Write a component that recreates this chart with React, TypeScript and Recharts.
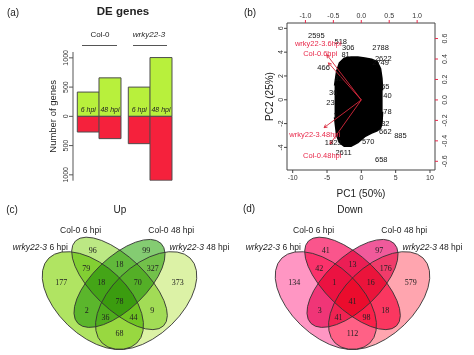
import React from 'react';
import {
  BarChart,
  Bar,
  XAxis,
  YAxis,
  LabelList,
  ComposedChart,
  Area,
  Scatter,
  ScatterChart,
  ReferenceLine,
} from 'recharts';

// (a) DE genes per genotype / time point (down values shown below zero)
const hpi = ['6 hpi', '48 hpi'];
const colUp = [415, 658];
const colDown = [268, 381];
const wrkyUp = [500, 1005];
const wrkyDown = [467, 1094];
const deTicks = [-1000, -500, 0, 500, 1000];

// (b) PCA biplot
const pcTicksX = [-10, -5, 0, 5, 10];
const pcTicksY = [-4, -2, 0, 2, 4, 6];
const loadTicksX = [-1, -0.5, 0, 0.5, 1];
const loadTicksY = [-0.6, -0.4, -0.2, 0, 0.2, 0.4, 0.6];
const geneIds = ['2595', '518', '306', '2788', '2622', '2749', '466', '81', '32', '36', '23', '1', '55', '40', '78', '32', '662', '885', '570', '1323', '2611', '658'];
const genePC1 = [-6.55, -3.0, -1.9, 2.8, 3.2, 2.8, -5.5, -2.3, -3.3, -4.1, -4.5, -3.8, 3.5, 3.8, 3.8, 3.5, 3.5, 5.7, 1.0, -4.1, -2.6, 2.9];
const genePC2 = [5.44, 4.9, 4.4, 4.4, 3.5, 3.1, 2.7, 3.8, 1.8, 0.65, -0.2, -1.3, 1.1, 0.4, -1.0, -2.0, -2.7, -3.0, -3.5, -3.6, -4.4, -5.0];
// the dense mass of overlapping gene labels: PC1 with lower / upper PC2 edge
const cloudPC1 = [-3.9, -3.6, -3.2, -2.5, -1.5, -0.5, 0.5, 1.5, 2.3, 2.8, 3.0, 3.1];
const cloudLow = [-1.5, -3.0, -3.6, -3.9, -3.9, -3.6, -3.1, -2.8, -2.6, -2.4, -2.0, -1.0];
const cloudHigh = [1.2, 2.4, 3.1, 3.5, 3.6, 3.6, 3.5, 3.4, 3.2, 2.6, 1.8, 0.8];
const sampleNames = ['wrky22-3.6hpi', 'Col-0.6hpi', 'wrky22-3.48hpi', 'Col-0.48hpi'];
const samplePC1 = [-0.77, -0.735, -0.833, -0.699];
const samplePC2 = [0.551, 0.453, -0.339, -0.539];

// (c) / (d) Venn counts, region order shared by both diagrams
const upCounts = [96, 99, 79, 18, 327, 177, 18, 70, 373, 78, 2, 9, 36, 44, 68];
const downCounts = [41, 97, 42, 13, 176, 134, 1, 16, 579, 41, 3, 18, 41, 98, 112];
const setGenotype = ['wrky22-3', 'Col-0', 'Col-0', 'wrky22-3'];
const setTime = ['6 hpi', '6 hpi', '48 hpi', '48 hpi'];

// layout
const sans = '"Liberation Sans", Arial, sans-serif';
const serif = '"Liberation Serif", "Times New Roman", serif';
const GREEN = '#b8f03c';
const RED = '#f5213c';
const AXRED = '#e8284a';

// quad venn geometry (unit square), same as VennDiagram's draw.quad.venn
const ellipseGeom = [
  { x: 0.35, y: 0.47, a: 0.35, b: 0.2, rot: 135 },
  { x: 0.5, y: 0.57, a: 0.35, b: 0.15, rot: 135 },
  { x: 0.5, y: 0.57, a: 0.33, b: 0.15, rot: 45 },
  { x: 0.65, y: 0.47, a: 0.35, b: 0.2, rot: 45 },
];
const regionPos = [
  [0.35, 0.762], [0.65, 0.762], [0.313, 0.655], [0.5, 0.679], [0.687, 0.655],
  [0.172, 0.574], [0.397, 0.574], [0.603, 0.574], [0.828, 0.574], [0.5, 0.465],
  [0.316, 0.412], [0.684, 0.412], [0.421, 0.373], [0.579, 0.373], [0.5, 0.277],
];
const setPos = [[0.054, 0.781], [0.281, 0.884], [0.791, 0.884], [0.95, 0.781]];
const upFills = ['#b0e462', '#bce884', '#84cc72', '#dcf2a6'];
const downFills = ['#ff96c3', '#fa558c', '#f05a9b', '#ffa5af'];

const UX = 177.7;
const UY = 171.7;
const VX = [-0.15, 1.15];
const VY = [0.1, 1.05];

function Txt({ x, y, size, children, style }: any) {
  return (
    <div
      style={{
        position: 'absolute',
        left: x,
        top: y,
        transform: 'translate(-50%, -50%)',
        fontSize: size,
        lineHeight: 1,
        whiteSpace: 'nowrap',
        color: '#222',
        ...style,
      }}
    >
      {children}
    </div>
  );
}

const rotTick = (shift: number, fmt: (v: number) => string) => (p: any) => (
  <text
    x={p.x + shift}
    y={p.y}
    transform={`rotate(-90 ${p.x + shift} ${p.y})`}
    textAnchor="middle"
    fontSize={7}
    fill="#333"
  >
    {fmt(p.payload.value)}
  </text>
);

const hpiLabel = (p: any) => (
  <text
    x={p.x + p.width / 2}
    y={p.y + p.height - 4.5}
    textAnchor="middle"
    fontSize={7}
    fontStyle="italic"
    fill="#222"
  >
    {p.value}
  </text>
);

function DeBars({ left, width, up, down, withAxis }: any) {
  const rows = hpi.map((t, i) => ({ t, up: up[i], down: -down[i] }));
  return (
    <div style={{ position: 'absolute', left, top: 41.65 }}>
      <BarChart
        width={width}
        height={148.7}
        data={rows}
        margin={{ top: 10, right: 0, bottom: 10, left: 0 }}
        stackOffset="sign"
        barCategoryGap={0}
      >
        <XAxis dataKey="t" hide padding={{ left: 4.3, right: 3.3 }} />
        <YAxis
          domain={[-1100, 1100]}
          allowDataOverflow
          ticks={deTicks}
          interval={0}
          hide={!withAxis}
          width={33}
          stroke="#555"
          tickSize={4}
          tickMargin={1}
          tick={rotTick(0, (v) => String(Math.abs(v)))}
          label={{
            value: 'Number of genes',
            angle: -90,
            position: 'insideLeft',
            offset: 13,
            fontSize: 9.5,
            fill: '#222',
            style: { textAnchor: 'middle' },
          }}
        />
        <Bar dataKey="up" stackId="s" fill={GREEN} stroke="#4d4d4d" strokeWidth={1} isAnimationActive={false}>
          <LabelList dataKey="t" content={hpiLabel} />
        </Bar>
        <Bar dataKey="down" stackId="s" fill={RED} stroke="#4d4d4d" strokeWidth={1} isAnimationActive={false} />
      </BarChart>
    </div>
  );
}

const Arrow = (p: any) => {
  const { x1, y1, x2, y2 } = p;
  const ang = Math.atan2(y2 - y1, x2 - x1);
  const h = 3.5;
  const a1 = [x2 - h * Math.cos(ang - 0.5), y2 - h * Math.sin(ang - 0.5)];
  const a2 = [x2 - h * Math.cos(ang + 0.5), y2 - h * Math.sin(ang + 0.5)];
  return (
    <g stroke="#d8283c" strokeWidth={0.9} fill="none">
      <line x1={x1} y1={y1} x2={x2} y2={y2} />
      <polyline points={`${a1[0]},${a1[1]} ${x2},${y2} ${a2[0]},${a2[1]}`} />
    </g>
  );
};

function Biplot() {
  const cloud = cloudPC1.map((x, i) => ({ x, band: [cloudLow[i], cloudHigh[i]] }));
  const genes = geneIds.map((id, i) => ({ id, x: genePC1[i], y: genePC2[i] }));
  const samples = sampleNames.map((name, i) => ({ name, x: samplePC1[i], y: samplePC2[i] }));
  return (
    <div style={{ position: 'absolute', left: 237, top: 0 }}>
      <ComposedChart width={237} height={200} margin={{ top: 0, right: 0, bottom: 0, left: 0 }}>
        <XAxis
          xAxisId="pc"
          type="number"
          dataKey="x"
          domain={[-10.83, 10.73]}
          allowDataOverflow
          ticks={pcTicksX}
          interval={0}
          height={30}
          stroke="#444"
          tickSize={3}
          tickMargin={2}
          tick={{ fontSize: 7, fill: '#333' }}
          label={{ value: 'PC1 (50%)', position: 'insideBottom', offset: 3, fontSize: 10, fill: '#222' }}
        />
        <XAxis
          xAxisId="load"
          orientation="top"
          type="number"
          dataKey="x"
          domain={[-1.33, 1.32]}
          allowDataOverflow
          ticks={loadTicksX}
          interval={0}
          height={23}
          axisLine={{ stroke: '#444' }}
          tickLine={{ stroke: AXRED }}
          tickSize={3}
          tickMargin={2}
          tick={{ fontSize: 7, fill: '#333' }}
          tickFormatter={(v: number) => v.toFixed(1)}
        />
        <YAxis
          yAxisId="pc"
          type="number"
          dataKey="y"
          domain={[-5.9, 6.45]}
          allowDataOverflow
          ticks={pcTicksY}
          interval={0}
          width={50}
          stroke="#444"
          tickSize={3}
          tickMargin={1}
          tick={rotTick(0, (v) => String(v))}
          label={{
            value: 'PC2 (25%)',
            angle: -90,
            position: 'insideLeft',
            offset: 32,
            fontSize: 10,
            fill: '#222',
            style: { textAnchor: 'middle' },
          }}
        />
        <YAxis
          yAxisId="load"
          orientation="right"
          type="number"
          dataKey="y"
          domain={[-0.685, 0.752]}
          allowDataOverflow
          ticks={loadTicksY}
          interval={0}
          width={39}
          axisLine={{ stroke: '#444' }}
          tickLine={{ stroke: AXRED }}
          tickSize={3}
          tickMargin={1}
          tick={rotTick(8.5, (v) => v.toFixed(1))}
        />
        <Area
          xAxisId="pc"
          yAxisId="pc"
          data={cloud}
          dataKey="band"
          type="linear"
          fill="#000"
          fillOpacity={1}
          stroke="#000"
          strokeWidth={1.5}
          isAnimationActive={false}
        />
        <Scatter
          xAxisId="pc"
          yAxisId="pc"
          data={genes}
          dataKey="y"
          isAnimationActive={false}
          shape={(p: any) => (
            <text x={p.cx} y={p.cy} textAnchor="middle" dominantBaseline="central" fontSize={7.5} fill="#111">
              {p.payload.id}
            </text>
          )}
        />
        {samples.map((s) => (
          <ReferenceLine
            key={s.name}
            xAxisId="load"
            yAxisId="load"
            segment={[{ x: 0, y: 0 }, { x: s.x * 0.8, y: s.y * 0.8 }]}
            shape={Arrow}
          />
        ))}
        <Scatter
          xAxisId="load"
          yAxisId="load"
          data={samples}
          dataKey="y"
          isAnimationActive={false}
          shape={(p: any) => (
            <text x={p.cx} y={p.cy} textAnchor="middle" dominantBaseline="central" fontSize={7.5} fill={AXRED}>
              {p.payload.name}
            </text>
          )}
        />
      </ComposedChart>
    </div>
  );
}

function Venn({ cxPx, counts, fills }: any) {
  const w = (VX[1] - VX[0]) * UX;
  const h = (VY[1] - VY[0]) * UY;
  const left = cxPx - (0.5 - VX[0]) * UX;
  const top = 380.8 - VY[1] * UY;
  const ell = ellipseGeom.map((e, i) => ({ ...e, fill: fills[i] }));
  const regions = counts.map((n: number, i: number) => ({ n, x: regionPos[i][0], y: regionPos[i][1] }));
  const sets = setGenotype.map((g, i) => ({ g, t: setTime[i], x: setPos[i][0], y: setPos[i][1] }));
  const ellShape = (stroke: boolean) => (p: any) => (
    <ellipse
      cx={0}
      cy={0}
      rx={p.payload.a}
      ry={p.payload.b}
      transform={`translate(${p.cx} ${p.cy}) scale(${UX} ${UY}) rotate(${-p.payload.rot})`}
      fill={stroke ? 'none' : p.payload.fill}
      stroke={stroke ? '#333' : 'none'}
      strokeWidth={0.9}
      vectorEffect="non-scaling-stroke"
      style={stroke ? undefined : { mixBlendMode: 'multiply' }}
    />
  );
  return (
    <div style={{ position: 'absolute', left, top }}>
      <ScatterChart width={w} height={h} margin={{ top: 0, right: 0, bottom: 0, left: 0 }}>
        <XAxis type="number" dataKey="x" domain={VX} hide allowDataOverflow />
        <YAxis type="number" dataKey="y" domain={VY} hide allowDataOverflow />
        <Scatter data={ell} isAnimationActive={false} shape={ellShape(false)} />
        <Scatter data={ell} isAnimationActive={false} shape={ellShape(true)} />
        <Scatter
          data={regions}
          isAnimationActive={false}
          shape={(p: any) => (
            <text x={p.cx} y={p.cy} textAnchor="middle" dominantBaseline="central" fontSize={8} fontFamily={serif} fill="#222">
              {p.payload.n}
            </text>
          )}
        />
        <Scatter
          data={sets}
          isAnimationActive={false}
          shape={(p: any) => (
            <text x={p.cx} y={p.cy} textAnchor="middle" dominantBaseline="central" fontSize={8.5} fill="#222">
              <tspan fontStyle={p.payload.g === 'Col-0' ? 'normal' : 'italic'}>{p.payload.g}</tspan>
              <tspan>{' ' + p.payload.t}</tspan>
            </text>
          )}
        />
      </ScatterChart>
    </div>
  );
}

export default function App() {
  return (
    <div
      style={{
        position: 'fixed',
        left: 0,
        top: 0,
        width: 474,
        height: 355,
        overflow: 'hidden',
        background: '#fff',
        fontFamily: sans,
      }}
    >
      {/* (a) */}
      <Txt x={13} y={13} size={10}>(a)</Txt>
      <Txt x={123} y={12} size={11.5} style={{ fontWeight: 'bold' }}>DE genes</Txt>
      <Txt x={100} y={35} size={8}>Col-0</Txt>
      <Txt x={149} y={35} size={8} style={{ fontStyle: 'italic' }}>wrky22-3</Txt>
      <div style={{ position: 'absolute', left: 82, top: 44.5, width: 35, borderTop: '1px solid #555' }} />
      <div style={{ position: 'absolute', left: 133, top: 44.5, width: 34, borderTop: '1px solid #555' }} />
      <DeBars left={40} width={84} up={colUp} down={colDown} withAxis />
      <DeBars left={124} width={51} up={wrkyUp} down={wrkyDown} withAxis={false} />

      {/* (b) */}
      <Txt x={250} y={13} size={10}>(b)</Txt>
      <Biplot />

      {/* (c) */}
      <Txt x={12} y={210} size={10}>(c)</Txt>
      <Txt x={120} y={210} size={10}>Up</Txt>
      <Venn cxPx={120} counts={upCounts} fills={upFills} />

      {/* (d) */}
      <Txt x={249} y={209} size={10}>(d)</Txt>
      <Txt x={350} y={210} size={10}>Down</Txt>
      <Venn cxPx={352.5} counts={downCounts} fills={downFills} />
    </div>
  );
}
